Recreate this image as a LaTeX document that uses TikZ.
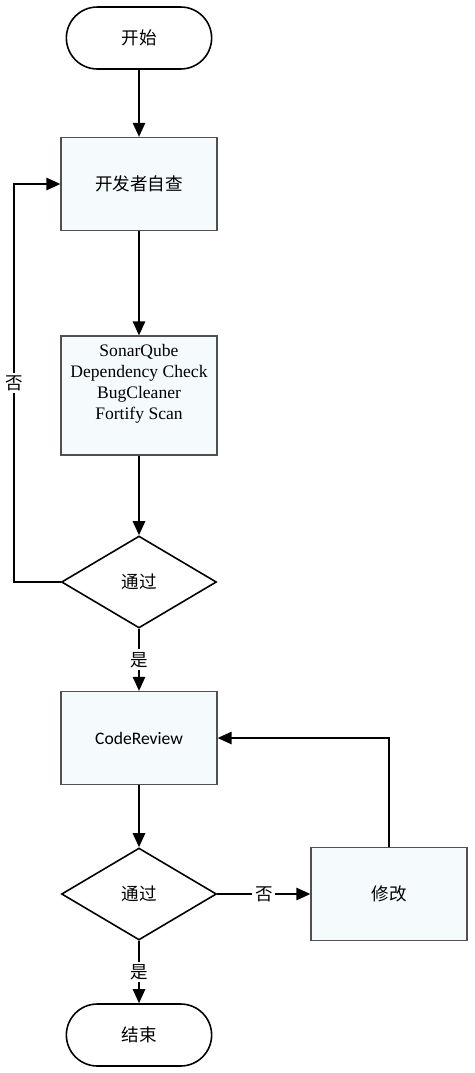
\documentclass[tikz,border=0pt]{standalone}
\usepackage{fontspec}
\setmainfont{Noto Sans CJK SC}
\newfontfamily\toolfont{Liberation Serif}
\newfontfamily\crfont{Carlito}
\usepackage{tikz}
\usetikzlibrary{shapes.geometric, shapes.misc, arrows.meta}
\definecolor{boxfill}{RGB}{245,250,253}
\definecolor{boxline}{RGB}{80,80,80}

\begin{document}
\begin{tikzpicture}[
  x=0.02cm, y=-0.02cm,
  font=\fontsize{10pt}{12pt}\selectfont,
  term/.style={rounded rectangle, draw=black, line width=0.9pt, fill=white,
               minimum width=3.14cm, minimum height=1.24cm},
  process/.style={rectangle, draw=boxline, line width=0.7pt, fill=boxfill,
                  minimum width=3.12cm, minimum height=1.86cm, align=center},
  decide/.style={diamond, draw=black, line width=0.9pt, fill=white,
                 minimum width=3.1cm, minimum height=1.84cm, inner sep=0pt},
  arr/.style={-{Triangle[length=8pt, width=7pt]}, line width=1.1pt, black},
  lbl/.style={fill=white, inner sep=1.5pt},
]
\useasboundingbox (0,0) rectangle (474,1073);

% Top part
\node[term] (start) at (139,38) {开始};
\node[process] (selfcheck) at (139,184) {开发者自查};
\node[process, inner sep=0pt, minimum height=2.38cm] (tools) at (139,395.5)
  {\parbox[c][2.38cm][t]{3.1cm}{\centering\toolfont\vspace*{4.5pt}%
   SonarQube\\Dependency Check\\BugCleaner\\Fortify Scan}};
\node[decide] (pass1) at (139,582) {通过};
\coordinate (back1) at (14,582);

% Review part
\node[process] (review) at (139,738) {\crfont CodeReview};
\node[decide] (pass2) at (139,894) {通过};
\node[process] (fix) at (389,894) {修改};
\node[term] (finish) at (139,1035) {结束};

% Flows
\draw[arr] (start) -- (selfcheck);
\draw[arr] (selfcheck) -- (tools);
\draw[arr] (tools) -- (pass1);
\draw[arr] (pass1.west) -- (back1) |- node[lbl, pos=0.25] {否} (selfcheck.west);
\draw[arr] (pass1) -- node[lbl] {是} (review);
\draw[arr] (review) -- (pass2);
\draw[arr] (pass2.east) -- node[lbl] {否} (fix.west);
\draw[arr] (fix.north) |- (review.east);
\draw[arr] (pass2) -- node[lbl] {是} (finish);

\end{tikzpicture}
\end{document}
